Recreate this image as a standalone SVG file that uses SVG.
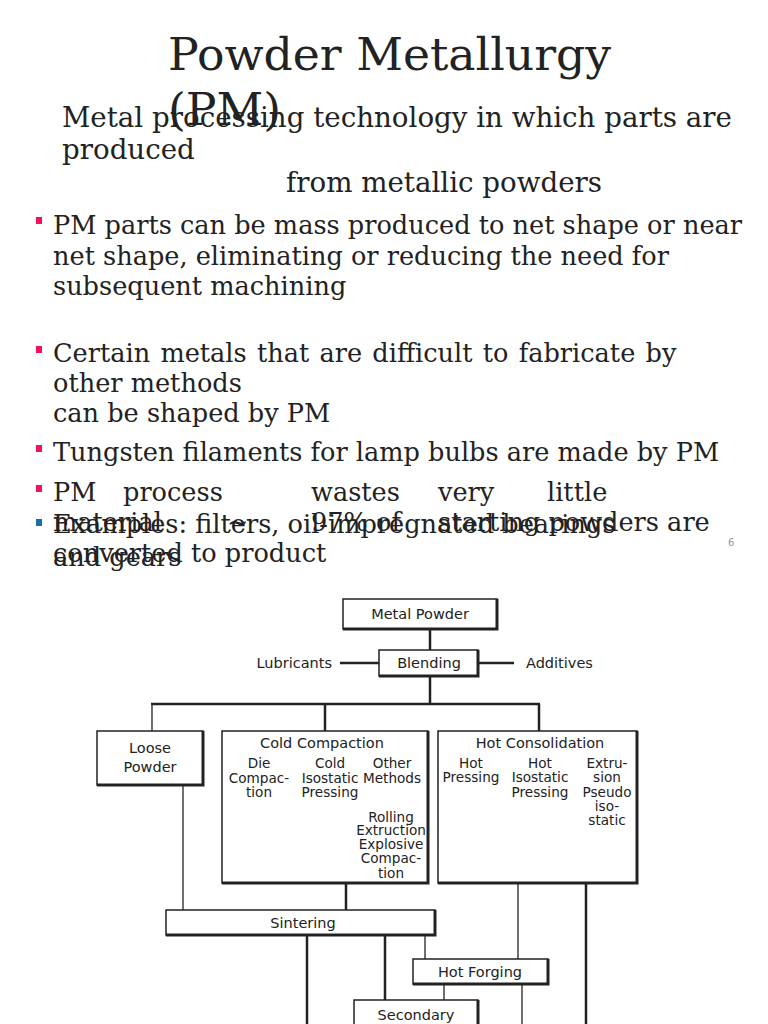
<svg xmlns="http://www.w3.org/2000/svg" width="768" height="1024" viewBox="0 0 768 1024">
<style>
.ser{font-family:"DejaVu Serif","Liberation Serif",serif;fill:#222;}
.title{font-size:45.7px;}
.sub{font-size:27.7px;}
.body{font-size:25.6px;}
.pg{font-family:"DejaVu Sans","Liberation Sans",sans-serif;font-size:10px;fill:#999;}
.pink{fill:#f0145a;}
.blue{fill:#1a6fa6;}
.lbl{font-family:"DejaVu Sans","Liberation Sans",sans-serif;font-size:14.5px;fill:#222;text-anchor:middle;}
.sm{font-family:"DejaVu Sans","Liberation Sans",sans-serif;font-size:13.6px;fill:#222;text-anchor:middle;}
.side{font-family:"DejaVu Sans","Liberation Sans",sans-serif;font-size:14.5px;fill:#222;}
.box{fill:#fff;stroke:#222;stroke-width:1.5;}
.edge{fill:none;stroke:#222;stroke-width:3;}
.thick{stroke:#222;stroke-width:2.5;fill:none;}
.thin{stroke:#333;stroke-width:1.4;fill:none;}
</style>
<rect width="768" height="1024" fill="#fff"/>
<g id="slide-text">
<text class="ser title" x="168" y="70">Powder Metallurgy</text>
<text class="ser title" x="168" y="125">(PM)</text>
<text class="ser sub" x="62" y="127">Metal processing technology in which parts are</text>
<text class="ser sub" x="62" y="159">produced</text>
<text class="ser sub" x="286" y="192">from metallic powders</text>
<rect class="pink" x="36" y="217" width="6" height="7"/>
<text class="ser body" x="53" y="234">PM parts can be mass produced to net shape or near</text>
<text class="ser body" x="53" y="265">net shape, eliminating or reducing the need for</text>
<text class="ser body" x="53" y="295">subsequent machining</text>
<rect class="pink" x="36" y="346" width="6" height="7"/>
<text class="ser body" x="53" y="362" word-spacing="2.1">Certain metals that are difficult to fabricate by</text>
<text class="ser body" x="53" y="392">other methods</text>
<text class="ser body" x="53" y="422">can be shaped by PM</text>
<rect class="pink" x="36" y="445" width="6" height="7"/>
<text class="ser body" x="53" y="461">Tungsten filaments for lamp bulbs are made by PM</text>
<rect class="pink" x="36" y="485" width="6" height="7"/>
<text class="ser body" y="501"><tspan x="53">PM</tspan><tspan x="123">process</tspan><tspan x="311">wastes</tspan><tspan x="438">very</tspan><tspan x="547">little</tspan></text>
<text class="ser body" y="531"><tspan x="53">material</tspan><tspan x="227">~</tspan><tspan x="311">97% of</tspan><tspan x="438">starting powders are</tspan></text>
<text class="ser body" x="53" y="562">converted to product</text>
<rect class="blue" x="36" y="519" width="6" height="7"/>
<text class="ser body" x="53" y="533">Examples: filters, oil-impregnated bearings</text>
<text class="ser body" x="53" y="566">and gears</text>
<text class="pg" x="728" y="546">6</text>
</g>
<g id="connectors">
<line class="thick" x1="430" y1="629" x2="430" y2="650"/>
<line class="thick" x1="340" y1="663" x2="379" y2="663"/>
<line class="thick" x1="478" y1="663" x2="514" y2="663"/>
<line class="thick" x1="430" y1="676" x2="430" y2="704"/>
<line class="thick" x1="151" y1="704" x2="540" y2="704"/>
<line class="thin" x1="152" y1="704" x2="152" y2="731"/>
<line class="thick" x1="325" y1="704" x2="325" y2="731"/>
<line class="thick" x1="539" y1="704" x2="539" y2="731"/>
<line class="thin" x1="183" y1="785" x2="183" y2="910"/>
<line class="thick" x1="346" y1="883" x2="346" y2="910"/>
<line class="thick" x1="307" y1="935" x2="307" y2="1024"/>
<line class="thick" x1="385" y1="935" x2="385" y2="1000"/>
<line class="thin" x1="425" y1="935" x2="425" y2="959"/>
<line class="thin" x1="518" y1="883" x2="518" y2="959"/>
<line class="thick" x1="586" y1="883" x2="586" y2="1024"/>
<line class="thin" x1="444" y1="984" x2="444" y2="1000"/>
<line class="thin" x1="522" y1="984" x2="522" y2="1024"/>
</g>
<g id="metal-powder">
<rect class="box" x="343" y="599" width="154" height="30"/>
<path class="edge" d="M497 599V629H343"/>
<text class="lbl" x="420" y="619">Metal Powder</text>
</g>
<g id="blending">
<rect class="box" x="379" y="650" width="99" height="26"/>
<path class="edge" d="M478 650V676H379"/>
<text class="lbl" x="429" y="668">Blending</text>
</g>
<g id="lubricants"><text class="side" x="332" y="668" text-anchor="end">Lubricants</text></g>
<g id="additives"><text class="side" x="526" y="668">Additives</text></g>
<g id="loose-powder">
<rect class="box" x="97" y="731" width="106" height="54"/>
<path class="edge" d="M203 731V785H97"/>
<text class="lbl" x="150" y="753">Loose</text>
<text class="lbl" x="150" y="772">Powder</text>
</g>
<g id="cold-compaction">
<rect class="box" x="222" y="731" width="206" height="152"/>
<path class="edge" d="M428 731V883H222"/>
<text class="lbl" x="322" y="748">Cold Compaction</text>
<text class="sm" x="259" y="768">Die</text>
<text class="sm" x="259" y="783">Compac-</text>
<text class="sm" x="259" y="797">tion</text>
<text class="sm" x="330" y="768">Cold</text>
<text class="sm" x="330" y="783">Isostatic</text>
<text class="sm" x="330" y="797">Pressing</text>
<text class="sm" x="392" y="768">Other</text>
<text class="sm" x="392" y="783">Methods</text>
<text class="sm" x="391" y="822">Rolling</text>
<text class="sm" x="391" y="835">Extruction</text>
<text class="sm" x="391" y="849">Explosive</text>
<text class="sm" x="391" y="863">Compac-</text>
<text class="sm" x="391" y="878">tion</text>
</g>
<g id="hot-consolidation">
<rect class="box" x="438" y="731" width="199" height="152"/>
<path class="edge" d="M637 731V883H438"/>
<text class="lbl" x="540" y="748">Hot Consolidation</text>
<text class="sm" x="471" y="768">Hot</text>
<text class="sm" x="471" y="782">Pressing</text>
<text class="sm" x="540" y="768">Hot</text>
<text class="sm" x="540" y="782">Isostatic</text>
<text class="sm" x="540" y="797">Pressing</text>
<text class="sm" x="607" y="768">Extru-</text>
<text class="sm" x="607" y="782">sion</text>
<text class="sm" x="607" y="797">Pseudo</text>
<text class="sm" x="607" y="811">iso-</text>
<text class="sm" x="607" y="825">static</text>
</g>
<g id="sintering">
<rect class="box" x="166" y="910" width="269" height="25"/>
<path class="edge" d="M435 910V935H166"/>
<text class="lbl" x="303" y="928">Sintering</text>
</g>
<g id="hot-forging">
<rect class="box" x="413" y="959" width="135" height="25"/>
<path class="edge" d="M548 959V984H413"/>
<text class="lbl" x="480" y="977">Hot Forging</text>
</g>
<g id="secondary">
<rect class="box" x="354" y="1000" width="124" height="40"/>
<path class="edge" d="M478 1000V1040"/>
<text class="lbl" x="416" y="1020">Secondary</text>
</g>
</svg>
